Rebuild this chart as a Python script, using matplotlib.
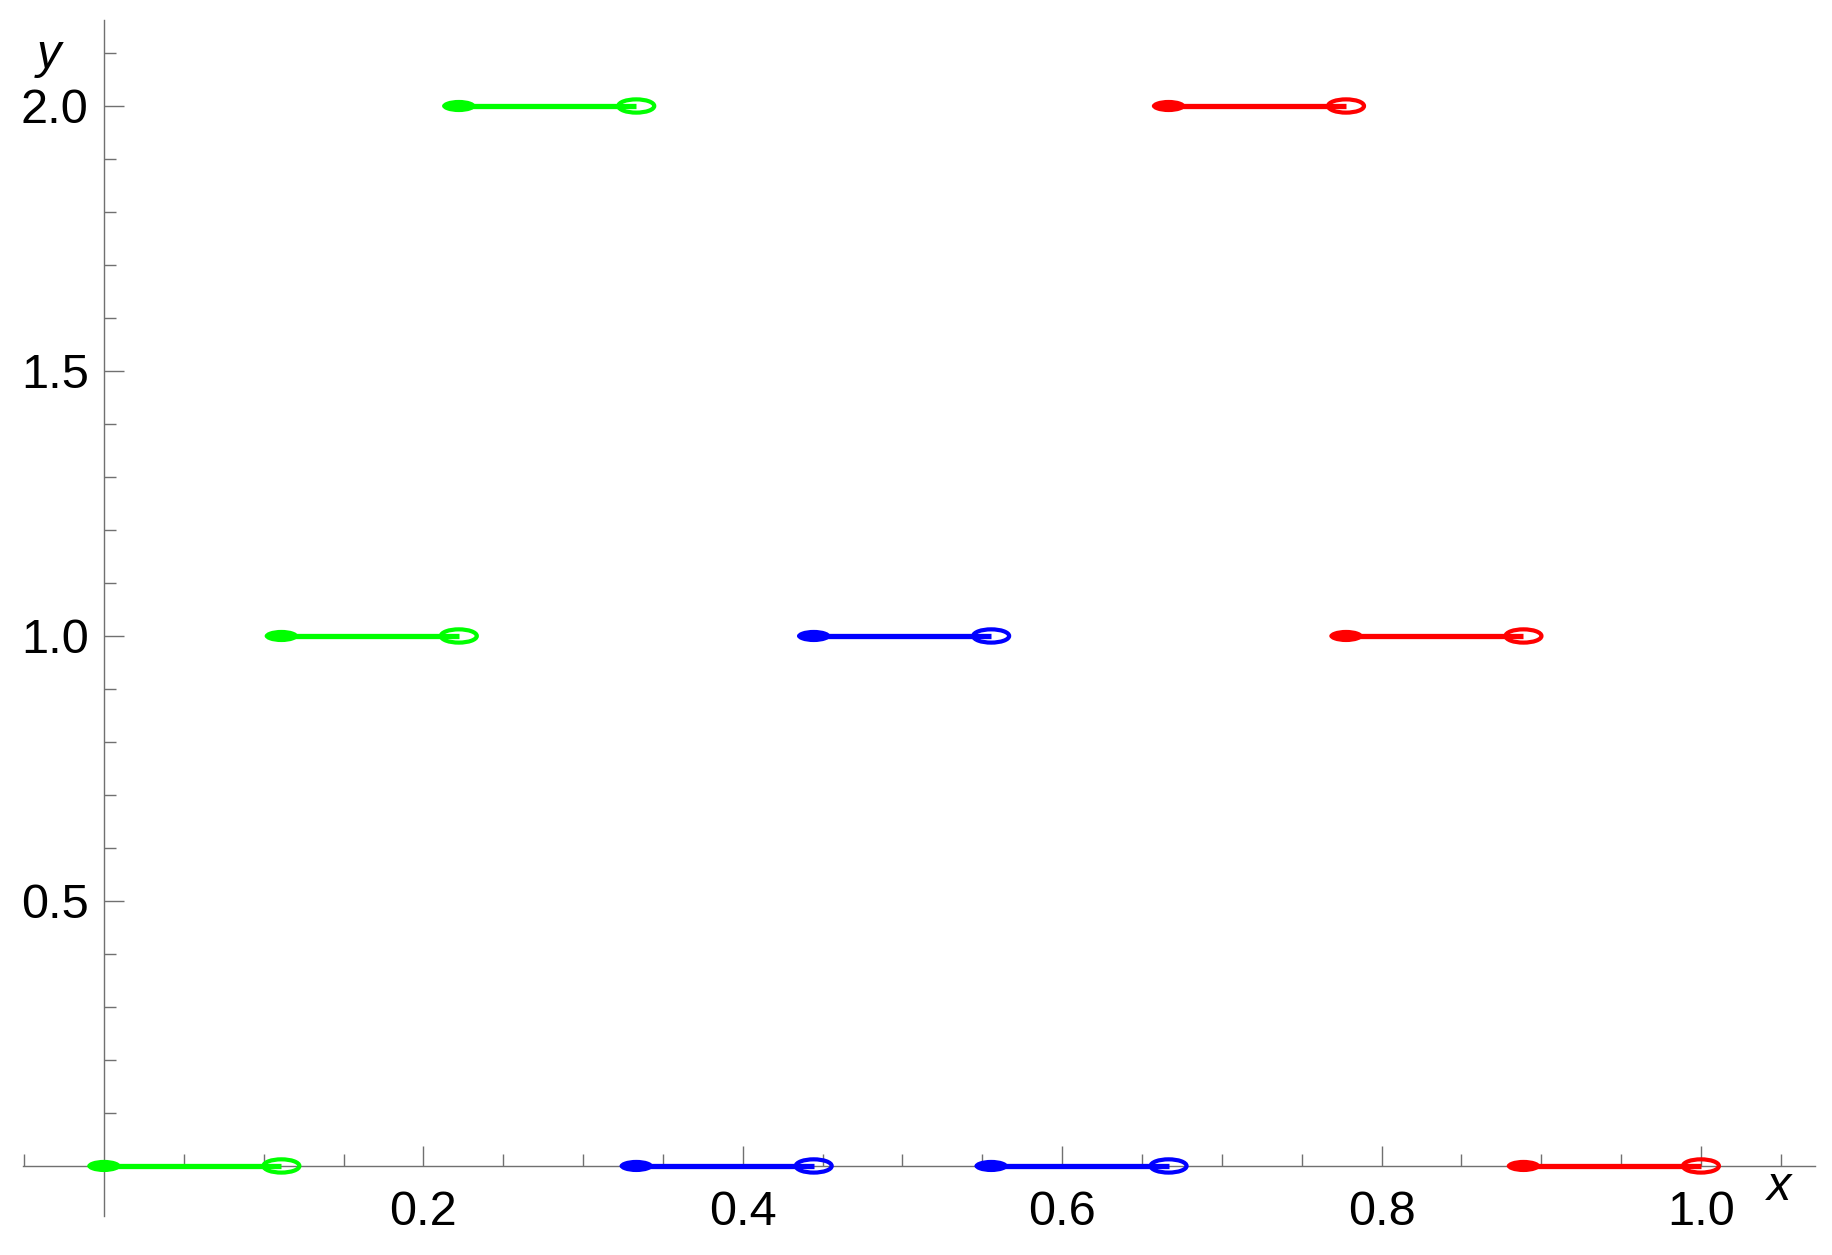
import matplotlib.pyplot as plt
from matplotlib.patches import Ellipse
from matplotlib.ticker import FixedLocator

# piecewise constant segments [x_start, x_end) at level y
x_starts = [0, 1/9, 2/9, 3/9, 4/9, 5/9, 6/9, 7/9, 8/9]
x_ends = [1/9, 2/9, 3/9, 4/9, 5/9, 6/9, 7/9, 8/9, 1]
y_levels = [0, 1, 2, 0, 1, 0, 2, 1, 0]
seg_colors = ['#00ff00', '#00ff00', '#00ff00',
              '#0000ff', '#0000ff', '#0000ff',
              '#ff0000', '#ff0000', '#ff0000']

x_major = [0.2, 0.4, 0.6, 0.8, 1.0]
x_labels = ['0.2', '0.4', '0.6', '0.8', '1.0']
y_major = [0.5, 1.0, 1.5, 2.0]
y_labels = ['0.5', '1.0', '1.5', '2.0']

plt.rcParams['font.family'] = ['Liberation Sans', 'DejaVu Sans']
axis_gray = '#707070'

fig = plt.figure(figsize=(18.33, 12.55), dpi=100)
ax = fig.add_axes([0, 0, 1, 1])
ax.set_xlim(-0.0651, 1.0827)
ax.set_ylim(-0.168, 2.2)

for xs, xe, y, c in zip(x_starts, x_ends, y_levels, seg_colors):
    ax.plot([xs, xe], [y, y], color=c, linewidth=3.8, solid_capstyle='butt', zorder=3)
    # closed left end, open right end
    ax.add_patch(Ellipse((xs, y), 0.021, 0.023, facecolor=c, edgecolor='none', zorder=4))
    ax.add_patch(Ellipse((xe, y), 0.0225, 0.025, facecolor='none', edgecolor=c,
                         linewidth=3.0, zorder=4))

# axes crossing at the origin
for side in ['top', 'right']:
    ax.spines[side].set_visible(False)
ax.spines['left'].set_position(('data', 0))
ax.spines['bottom'].set_position(('data', 0))
ax.spines['left'].set_bounds(-0.094, 2.162)
ax.spines['bottom'].set_bounds(-0.0507, 1.0714)
for side in ['left', 'bottom']:
    ax.spines[side].set_color(axis_gray)
    ax.spines[side].set_linewidth(1.0)

ax.xaxis.set_major_locator(FixedLocator(x_major))
ax.xaxis.set_minor_locator(FixedLocator([-0.05, 0.05, 0.1, 0.15, 0.25, 0.3, 0.35, 0.45, 0.5,
                                         0.55, 0.65, 0.7, 0.75, 0.85, 0.9, 0.95, 1.05]))
ax.set_xticklabels(x_labels)
ax.yaxis.set_major_locator(FixedLocator(y_major))
ax.yaxis.set_minor_locator(FixedLocator([0.1, 0.2, 0.3, 0.4, 0.6, 0.7, 0.8, 0.9, 1.1, 1.2,
                                         1.3, 1.4, 1.6, 1.7, 1.8, 1.9, 2.1]))
ax.set_yticklabels(y_labels)

ax.tick_params(which='both', direction='in', color=axis_gray, width=1.0, labelsize=35)
ax.tick_params(which='major', length=14.4)
ax.tick_params(which='minor', length=8.6)
ax.tick_params(axis='x', which='major', pad=17)
ax.tick_params(axis='y', which='major', pad=11)

ax.annotate('y', xy=(49, 1255 - 56), xycoords='figure pixels', fontsize=35,
            style='italic', ha='center', va='center')
ax.annotate('x', xy=(1779, 1255 - 1187), xycoords='figure pixels', fontsize=35,
            style='italic', ha='center', va='center')

fig.savefig('out.png', dpi=100)
